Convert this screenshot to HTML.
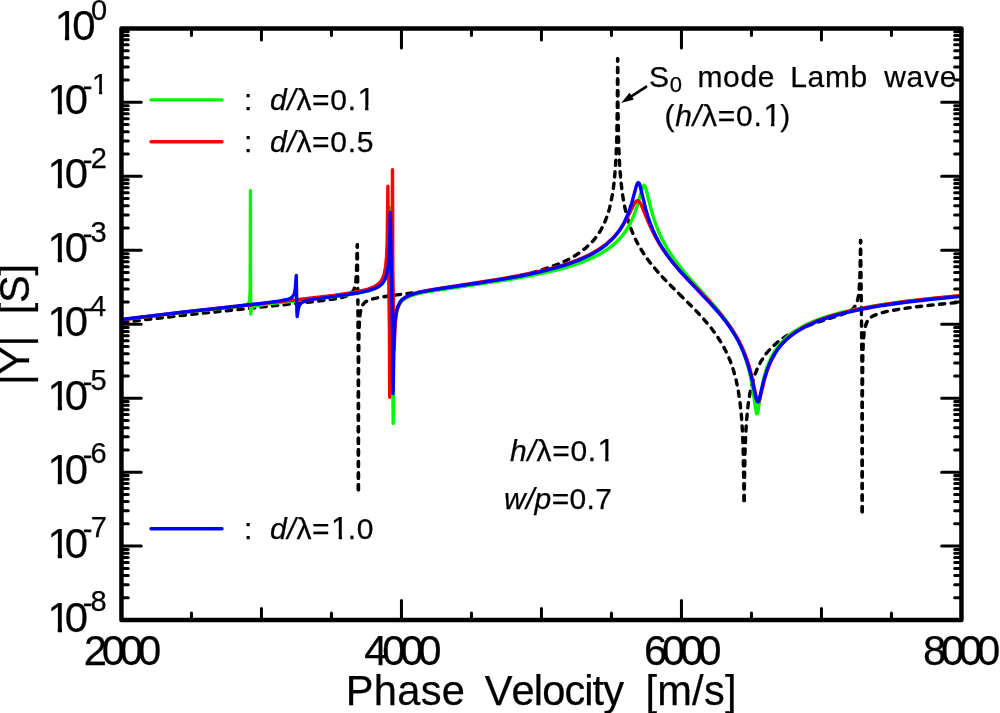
<!DOCTYPE html><html><head><meta charset="utf-8"><style>html,body{margin:0;padding:0;background:#fff;width:1000px;height:713px;overflow:hidden}svg{display:block;will-change:transform}text{font-family:"Liberation Sans",sans-serif;fill:#000;stroke:#000;stroke-width:0.25px}</style></head><body>
<svg width="1000" height="713" viewBox="0 0 1000 713">
<defs><clipPath id="pc"><rect x="121.45" y="28.4" width="840.0" height="591.68"/></clipPath></defs>
<g clip-path="url(#pc)" fill="none" stroke-linejoin="round" stroke-linecap="round">
<path d="M357.33,244.76 356.41,274.02 355.82,281.26 355.01,286.21 353.76,290.03 351.93,292.83 349.33,294.86 345.60,296.47 341.06,297.68 334.81,298.86 314.93,301.50 186.97,314.86 121.45,322.44" stroke="#000" stroke-width="3.4" stroke-dasharray="5.2 6.4" stroke-dashoffset="2.8"/>
<path d="M357.33,244.76 357.87,300.23" stroke="#000" stroke-width="3.4" stroke-dasharray="5.2 6.4" stroke-dashoffset="2.8"/>
<path d="M358.41,489.80 358.31,369.29 357.87,300.23" stroke="#000" stroke-width="3.4" stroke-dasharray="5.2 6.4" stroke-dashoffset="0.0"/>
<path d="M358.41,489.80 358.52,375.48 358.95,333.50 359.39,322.08 360.09,313.92 361.13,308.55 362.74,304.77 364.90,302.32 368.09,300.44 372.69,298.90 379.34,297.48 394.45,295.20 454.65,287.35 488.02,282.18" stroke="#000" stroke-width="3.4" stroke-dasharray="5.2 6.4" stroke-dashoffset="0.0"/>
<path d="M617.63,58.60 617.33,105.27 616.77,137.92 615.93,159.48 614.53,178.43 613.41,188.10 612.29,195.42 609.49,208.40 607.53,214.94 605.57,220.26 603.33,225.31 600.81,230.06 597.73,234.91 594.09,239.67 590.17,243.95 585.97,247.84 581.21,251.59 575.89,255.17 570.01,258.56 563.85,261.62 556.85,264.64 549.29,267.47 541.17,270.14 532.21,272.73 512.05,277.57 488.02,282.18" stroke="#000" stroke-width="3.4" stroke-dasharray="5.2 6.4" stroke-dashoffset="2.8"/>
<path d="M617.63,58.60 618.17,123.08 618.73,145.95 619.57,164.36 620.69,179.25 622.37,193.68 624.33,205.25 626.85,216.08 630.21,226.86 634.13,236.54 638.89,245.91 644.77,255.37 651.21,264.10 659.05,273.36 668.01,282.87 680.88,295.63" stroke="#000" stroke-width="3.4" stroke-dasharray="5.2 6.4" stroke-dashoffset="2.8"/>
<path d="M744.12,500.60 743.05,445.69 742.21,427.27 741.37,415.47 739.97,401.99 738.29,390.72 736.05,379.77 733.53,370.45 730.17,360.78 725.97,351.27 721.21,342.53 715.61,333.93 709.17,325.46 701.89,317.00 693.21,307.84 680.88,295.62" stroke="#000" stroke-width="3.4" stroke-dasharray="5.2 6.4" stroke-dashoffset="0.0"/>
<path d="M744.12,500.60 745.01,451.85 745.85,431.23 746.69,418.80 748.09,405.18 749.77,394.21 751.73,385.05 754.25,376.37 757.33,368.44 761.25,360.83 766.01,353.81 771.33,347.74 777.49,342.20 784.77,336.99 792.89,332.32 802.36,327.87" stroke="#000" stroke-width="3.4" stroke-dasharray="5.2 6.4" stroke-dashoffset="0.0"/>
<path d="M860.61,240.36 859.96,274.35 859.15,289.92 858.50,295.60 857.69,299.83 856.56,303.40 855.10,306.18 853.48,308.18 851.41,309.94 848.78,311.54 845.46,313.07 838.81,315.46 815.57,322.85 802.36,327.87" stroke="#000" stroke-width="3.4" stroke-dasharray="5.2 6.4" stroke-dashoffset="2.8"/>
<path d="M860.61,240.36 861.42,313.98" stroke="#000" stroke-width="3.4" stroke-dasharray="5.2 6.4" stroke-dashoffset="2.8"/>
<path d="M862.23,511.80 862.07,383.98 861.42,313.98" stroke="#000" stroke-width="3.4" stroke-dasharray="5.2 6.4" stroke-dashoffset="0.0"/>
<path d="M862.23,511.80 862.33,404.29 862.80,356.53 863.28,342.98 864.01,333.69 865.06,327.24 866.68,322.40 867.82,320.43 869.28,318.66 870.98,317.20 873.08,315.89 878.83,313.55 887.18,311.41 900.13,309.07 916.93,306.74 937.65,304.40 961.45,302.15" stroke="#000" stroke-width="3.4" stroke-dasharray="5.2 6.4" stroke-dashoffset="0.0"/>
<path d="M121.45,319.91 165.13,314.58 237.09,306.50 244.93,305.23 246.89,304.60 248.25,303.70 249.14,302.28 249.67,299.98 250.19,289.94 250.46,190.80 250.55,288.19 250.78,314.00 251.37,309.82 252.17,307.74 253.66,306.45 256.41,305.56 268.73,303.81 330.61,297.00 353.09,293.96 362.81,292.19 370.09,290.37 375.57,288.32 379.59,285.93 382.69,282.84 384.93,278.94 386.59,273.80 387.78,267.17 388.68,258.03 389.27,246.70 390.17,207.47 390.91,258.71 392.55,337.16 393.14,423.40 393.59,357.80 394.04,339.57 394.73,326.38 395.82,316.32 397.25,309.69 398.21,306.93 399.40,304.46 400.74,302.45 402.38,300.63 405.80,298.09 410.27,296.00 416.29,294.12 424.26,292.33 441.09,289.51 485.73,283.17 507.85,279.78 528.57,276.16 546.49,272.46 560.49,269.01 572.81,265.40 583.73,261.53 593.25,257.43 598.57,254.73 603.33,251.98 607.81,249.04 611.73,246.10 615.65,242.74 619.01,239.43 622.09,235.94 625.17,231.90 629.93,224.13 633.85,215.65 637.21,206.06 642.25,188.17 643.09,186.17 643.93,185.31 644.77,185.83 645.89,188.49 651.77,211.83 654.01,219.26 656.25,225.67 658.77,231.96 661.57,238.07 667.73,249.32 674.45,259.44 682.85,270.31 691.25,280.09 712.25,303.41 722.33,315.62 727.09,322.07 731.29,328.33 735.21,334.87 738.57,341.23 741.65,347.93 744.45,355.05 746.97,362.70 748.93,369.83 750.61,377.14 752.29,385.99 755.93,410.57 756.49,413.03 756.95,413.80 757.33,413.45 757.89,411.48 761.25,390.29 763.77,378.31 767.13,367.11 771.05,357.88 773.57,353.25 776.37,348.92 779.45,344.87 782.81,341.11 786.45,337.61 790.37,334.36 794.85,331.15 799.61,328.19 804.93,325.32 810.81,322.57 817.25,319.94 824.25,317.46 839.65,312.96 857.57,308.90 878.29,305.19 902.37,301.76 929.81,298.61 961.45,295.64" stroke="#00f800" stroke-width="3.4"/>
<path d="M121.45,319.76 186.13,311.80 300.93,299.26 333.41,295.41 348.81,293.21 359.89,291.19 368.06,289.10 374.03,286.76 376.57,285.29 378.71,283.63 380.45,281.77 381.92,279.61 383.13,277.12 384.12,274.22 385.63,266.66 386.61,256.16 387.24,240.83 387.89,186.22 388.29,242.25 389.39,327.12 389.72,397.20 390.20,326.09 391.74,276.63 392.11,257.48 392.48,169.80 392.84,268.64 394.03,350.00 395.20,324.13 395.94,316.61 396.90,311.00 398.26,306.35 400.09,302.64 402.49,299.69 405.74,297.20 409.42,295.33 414.06,293.65 419.95,292.07 427.49,290.47 442.89,287.83 500.29,278.97 518.49,275.73 534.45,272.47 547.68,269.36 559.71,266.07 570.57,262.58 580.09,258.95 589.89,254.43 598.57,249.48 606.13,244.08 612.85,238.03 617.61,232.71 622.09,226.59 626.85,218.54 634.13,204.01 635.81,201.64 636.65,200.96 637.49,200.70 638.33,200.90 639.17,201.56 641.13,204.61 649.81,225.51 655.41,236.97 660.45,245.59 666.33,254.25 673.05,262.90 680.89,271.93 708.89,301.05 718.69,311.86 727.93,323.44 731.85,329.05 735.49,334.81 738.85,340.79 741.93,347.01 744.73,353.53 747.25,360.36 749.49,367.50 751.45,374.85 756.49,398.12 757.33,400.87 758.16,402.00 758.45,401.95 759.01,401.22 759.85,398.83 764.17,380.51 767.41,369.79 771.05,360.83 775.25,353.07 778.05,348.90 781.13,344.97 784.49,341.29 787.85,338.09 791.77,334.84 795.97,331.81 800.45,328.97 805.21,326.32 810.81,323.58 816.69,321.06 829.85,316.38 844.97,312.16 862.61,308.26 882.77,304.69 905.73,301.39 931.77,298.33 961.45,295.44" stroke="#ff0000" stroke-width="3.4"/>
<path d="M121.45,319.48 174.09,313.07 265.37,302.91 278.53,301.17 286.09,299.75 289.17,298.79 291.35,297.67 292.90,296.23 294.00,294.32 294.75,291.87 295.30,288.54 296.27,275.41 296.90,311.31 297.18,316.60 298.23,309.24 299.35,305.57 300.20,304.18 301.28,303.07 302.68,302.15 304.50,301.35 308.49,300.25 314.65,299.11 345.56,294.81 358.21,292.79 367.57,290.80 374.29,288.69 376.97,287.47 379.33,286.07 381.28,284.50 382.81,282.84 384.20,280.79 385.31,278.53 387.12,272.49 388.29,264.87 389.13,254.17 389.69,239.99 390.32,212.62 392.49,332.41 393.10,393.60 393.79,343.13 394.35,329.26 395.04,320.17 396.16,312.35 397.69,306.64 399.77,302.39 401.16,300.57 402.69,299.07 406.03,296.80 410.41,294.86 416.17,293.10 423.68,291.42 439.39,288.73 481.81,282.48 503.09,279.10 523.25,275.46 540.89,271.72 554.89,268.19 567.49,264.39 578.41,260.42 588.21,256.06 593.53,253.26 598.29,250.41 602.55,247.51 606.69,244.30 610.33,241.06 613.69,237.64 616.77,234.02 619.85,229.83 624.33,222.27 628.25,213.53 631.61,203.59 636.37,185.86 637.49,183.13 638.33,182.54 639.17,183.45 640.01,185.67 645.61,208.63 647.85,216.28 650.28,223.36 652.89,229.89 655.97,236.56 659.05,242.39 662.69,248.50 669.97,259.00 678.93,270.01 688.17,280.19 710.29,303.33 720.93,315.46 725.69,321.48 730.17,327.70 734.09,333.74 737.45,339.53 740.25,344.95 743.05,351.09 747.53,363.12 751.17,376.06 755.93,397.79 756.77,400.55 757.61,401.80 757.89,401.81 758.45,401.23 759.29,399.06 763.77,380.62 767.13,369.72 770.77,360.96 774.97,353.34 777.77,349.23 780.57,345.68 783.93,342.00 787.51,338.61 791.21,335.56 795.41,332.53 799.89,329.70 804.93,326.91 810.53,324.20 816.41,321.70 829.57,317.07 844.97,312.82 862.61,308.97 882.77,305.45 905.73,302.21 931.77,299.19 961.45,296.35" stroke="#0000ff" stroke-width="3.4"/>
</g>
<g stroke="#000" stroke-linecap="round" fill="none">
<path d="M121.45,80.10L128.25,80.10 M961.45,80.10L954.65,80.10 M121.45,67.07L128.25,67.07 M961.45,67.07L954.65,67.07 M121.45,57.83L128.25,57.83 M961.45,57.83L954.65,57.83 M121.45,50.66L128.25,50.66 M961.45,50.66L954.65,50.66 M121.45,44.81L128.25,44.81 M961.45,44.81L954.65,44.81 M121.45,39.86L128.25,39.86 M961.45,39.86L954.65,39.86 M121.45,35.57L128.25,35.57 M961.45,35.57L954.65,35.57 M121.45,31.78L128.25,31.78 M961.45,31.78L954.65,31.78 M121.45,102.36L141.25,102.36 M961.45,102.36L941.65,102.36 M121.45,154.06L128.25,154.06 M961.45,154.06L954.65,154.06 M121.45,141.03L128.25,141.03 M961.45,141.03L954.65,141.03 M121.45,131.79L128.25,131.79 M961.45,131.79L954.65,131.79 M121.45,124.62L128.25,124.62 M961.45,124.62L954.65,124.62 M121.45,118.77L128.25,118.77 M961.45,118.77L954.65,118.77 M121.45,113.82L128.25,113.82 M961.45,113.82L954.65,113.82 M121.45,109.53L128.25,109.53 M961.45,109.53L954.65,109.53 M121.45,105.74L128.25,105.74 M961.45,105.74L954.65,105.74 M121.45,176.32L141.25,176.32 M961.45,176.32L941.65,176.32 M121.45,228.02L128.25,228.02 M961.45,228.02L954.65,228.02 M121.45,214.99L128.25,214.99 M961.45,214.99L954.65,214.99 M121.45,205.75L128.25,205.75 M961.45,205.75L954.65,205.75 M121.45,198.58L128.25,198.58 M961.45,198.58L954.65,198.58 M121.45,192.73L128.25,192.73 M961.45,192.73L954.65,192.73 M121.45,187.78L128.25,187.78 M961.45,187.78L954.65,187.78 M121.45,183.49L128.25,183.49 M961.45,183.49L954.65,183.49 M121.45,179.70L128.25,179.70 M961.45,179.70L954.65,179.70 M121.45,250.28L141.25,250.28 M961.45,250.28L941.65,250.28 M121.45,301.98L128.25,301.98 M961.45,301.98L954.65,301.98 M121.45,288.95L128.25,288.95 M961.45,288.95L954.65,288.95 M121.45,279.71L128.25,279.71 M961.45,279.71L954.65,279.71 M121.45,272.54L128.25,272.54 M961.45,272.54L954.65,272.54 M121.45,266.69L128.25,266.69 M961.45,266.69L954.65,266.69 M121.45,261.74L128.25,261.74 M961.45,261.74L954.65,261.74 M121.45,257.45L128.25,257.45 M961.45,257.45L954.65,257.45 M121.45,253.66L128.25,253.66 M961.45,253.66L954.65,253.66 M121.45,324.24L141.25,324.24 M961.45,324.24L941.65,324.24 M121.45,375.94L128.25,375.94 M961.45,375.94L954.65,375.94 M121.45,362.91L128.25,362.91 M961.45,362.91L954.65,362.91 M121.45,353.67L128.25,353.67 M961.45,353.67L954.65,353.67 M121.45,346.50L128.25,346.50 M961.45,346.50L954.65,346.50 M121.45,340.65L128.25,340.65 M961.45,340.65L954.65,340.65 M121.45,335.70L128.25,335.70 M961.45,335.70L954.65,335.70 M121.45,331.41L128.25,331.41 M961.45,331.41L954.65,331.41 M121.45,327.62L128.25,327.62 M961.45,327.62L954.65,327.62 M121.45,398.20L141.25,398.20 M961.45,398.20L941.65,398.20 M121.45,449.90L128.25,449.90 M961.45,449.90L954.65,449.90 M121.45,436.87L128.25,436.87 M961.45,436.87L954.65,436.87 M121.45,427.63L128.25,427.63 M961.45,427.63L954.65,427.63 M121.45,420.46L128.25,420.46 M961.45,420.46L954.65,420.46 M121.45,414.61L128.25,414.61 M961.45,414.61L954.65,414.61 M121.45,409.66L128.25,409.66 M961.45,409.66L954.65,409.66 M121.45,405.37L128.25,405.37 M961.45,405.37L954.65,405.37 M121.45,401.58L128.25,401.58 M961.45,401.58L954.65,401.58 M121.45,472.16L141.25,472.16 M961.45,472.16L941.65,472.16 M121.45,523.86L128.25,523.86 M961.45,523.86L954.65,523.86 M121.45,510.83L128.25,510.83 M961.45,510.83L954.65,510.83 M121.45,501.59L128.25,501.59 M961.45,501.59L954.65,501.59 M121.45,494.42L128.25,494.42 M961.45,494.42L954.65,494.42 M121.45,488.57L128.25,488.57 M961.45,488.57L954.65,488.57 M121.45,483.62L128.25,483.62 M961.45,483.62L954.65,483.62 M121.45,479.33L128.25,479.33 M961.45,479.33L954.65,479.33 M121.45,475.54L128.25,475.54 M961.45,475.54L954.65,475.54 M121.45,546.12L141.25,546.12 M961.45,546.12L941.65,546.12 M121.45,597.82L128.25,597.82 M961.45,597.82L954.65,597.82 M121.45,584.79L128.25,584.79 M961.45,584.79L954.65,584.79 M121.45,575.55L128.25,575.55 M961.45,575.55L954.65,575.55 M121.45,568.38L128.25,568.38 M961.45,568.38L954.65,568.38 M121.45,562.53L128.25,562.53 M961.45,562.53L954.65,562.53 M121.45,557.58L128.25,557.58 M961.45,557.58L954.65,557.58 M121.45,553.29L128.25,553.29 M961.45,553.29L954.65,553.29 M121.45,549.50L128.25,549.50 M961.45,549.50L954.65,549.50 M191.45,620.08L191.45,612.98 M191.45,28.40L191.45,35.50 M261.45,620.08L261.45,608.48 M261.45,28.40L261.45,40.00 M331.45,620.08L331.45,612.98 M331.45,28.40L331.45,35.50 M401.45,620.08L401.45,600.58 M401.45,28.40L401.45,47.90 M471.45,620.08L471.45,612.98 M471.45,28.40L471.45,35.50 M541.45,620.08L541.45,608.48 M541.45,28.40L541.45,40.00 M611.45,620.08L611.45,612.98 M611.45,28.40L611.45,35.50 M681.45,620.08L681.45,600.58 M681.45,28.40L681.45,47.90 M751.45,620.08L751.45,612.98 M751.45,28.40L751.45,35.50 M821.45,620.08L821.45,608.48 M821.45,28.40L821.45,40.00 M891.45,620.08L891.45,612.98 M891.45,28.40L891.45,35.50" stroke-width="3.0"/>
<rect x="121.45" y="28.4" width="840.0" height="591.68" stroke-width="4.5" stroke-linejoin="round"/>
</g>
<g stroke-linecap="round" stroke-width="3.4">
<path d="M151,99.9H222" stroke="#00f800"/>
<path d="M151,141.8H222" stroke="#ff0000"/>
<path d="M151,528.8H222" stroke="#0000ff"/>
</g>
<path d="M646.0,86.8L631.67,96.16" stroke="#000" stroke-width="2.8" stroke-linecap="round"/>
<path d="M621.2,103.0L629.48,92.82L633.85,99.51Z" fill="#000"/>
<clipPath id="c1_31"><path d="M48.69,-1.40H96.49V35.48H69.20V43.40H64.91V35.48H48.69Z"/></clipPath>
<text x="54.69" y="40.40" font-size="41.8" clip-path="url(#c1_31)">1</text>
<text x="72.37" y="40.40" font-size="41.8"  >0</text>
<text x="91.07" y="19.70" font-size="29"  >0</text>
<clipPath id="c1_35"><path d="M41.49,72.56H89.29V109.44H62.00V117.36H57.71V109.44H41.49Z"/></clipPath>
<text x="47.49" y="114.36" font-size="41.8" clip-path="url(#c1_35)">1</text>
<text x="64.77" y="114.36" font-size="41.8"  >0</text>
<text x="82.71" y="95.66" font-size="29"  >-</text>
<clipPath id="c1_39"><path d="M86.04,64.66H121.04V89.69H102.20V96.66H99.04V89.69H86.04Z"/></clipPath>
<text x="92.04" y="93.66" font-size="29" clip-path="url(#c1_39)">1</text>
<clipPath id="c1_41"><path d="M41.49,146.52H89.29V183.40H62.00V191.32H57.71V183.40H41.49Z"/></clipPath>
<text x="47.49" y="188.32" font-size="41.8" clip-path="url(#c1_41)">1</text>
<text x="64.77" y="188.32" font-size="41.8"  >0</text>
<text x="82.71" y="169.62" font-size="29"  >-</text>
<text x="90.73" y="167.62" font-size="29"  >2</text>
<clipPath id="c1_46"><path d="M41.49,220.48H89.29V257.36H62.00V265.28H57.71V257.36H41.49Z"/></clipPath>
<text x="47.49" y="262.28" font-size="41.8" clip-path="url(#c1_46)">1</text>
<text x="64.77" y="262.28" font-size="41.8"  >0</text>
<text x="82.71" y="243.58" font-size="29"  >-</text>
<text x="90.55" y="241.58" font-size="29"  >3</text>
<clipPath id="c1_51"><path d="M41.49,294.44H89.29V331.32H62.00V339.24H57.71V331.32H41.49Z"/></clipPath>
<text x="47.49" y="336.24" font-size="41.8" clip-path="url(#c1_51)">1</text>
<text x="64.77" y="336.24" font-size="41.8"  >0</text>
<text x="82.71" y="317.54" font-size="29"  >-</text>
<text x="90.12" y="315.54" font-size="29"  >4</text>
<clipPath id="c1_56"><path d="M41.49,368.40H89.29V405.28H62.00V413.20H57.71V405.28H41.49Z"/></clipPath>
<text x="47.49" y="410.20" font-size="41.8" clip-path="url(#c1_56)">1</text>
<text x="64.77" y="410.20" font-size="41.8"  >0</text>
<text x="82.71" y="391.50" font-size="29"  >-</text>
<text x="90.49" y="389.50" font-size="29"  >5</text>
<clipPath id="c1_61"><path d="M41.49,442.36H89.29V479.24H62.00V487.16H57.71V479.24H41.49Z"/></clipPath>
<text x="47.49" y="484.16" font-size="41.8" clip-path="url(#c1_61)">1</text>
<text x="64.77" y="484.16" font-size="41.8"  >0</text>
<text x="82.71" y="465.46" font-size="29"  >-</text>
<text x="90.55" y="463.46" font-size="29"  >6</text>
<clipPath id="c1_66"><path d="M41.49,516.32H89.29V553.20H62.00V561.12H57.71V553.20H41.49Z"/></clipPath>
<text x="47.49" y="558.12" font-size="41.8" clip-path="url(#c1_66)">1</text>
<text x="64.77" y="558.12" font-size="41.8"  >0</text>
<text x="82.71" y="539.42" font-size="29"  >-</text>
<text x="90.73" y="537.42" font-size="29"  >7</text>
<clipPath id="c1_71"><path d="M41.49,590.28H89.29V627.16H62.00V635.08H57.71V627.16H41.49Z"/></clipPath>
<text x="47.49" y="632.08" font-size="41.8" clip-path="url(#c1_71)">1</text>
<text x="64.77" y="632.08" font-size="41.8"  >0</text>
<text x="82.71" y="613.38" font-size="29"  >-</text>
<text x="90.53" y="611.38" font-size="29"  >8</text>
<text x="83.75" y="665.20" font-size="41.8" letter-spacing="-5.2"  >2000</text>
<text x="364.24" y="665.20" font-size="41.8" letter-spacing="-5.2"  >4000</text>
<text x="644.08" y="665.20" font-size="41.8" letter-spacing="-5.2"  >6000</text>
<text x="922.98" y="665.20" font-size="41.8" letter-spacing="-5.2"  >8000</text>
<text y="109.90" font-size="30"><tspan x="244.01">:</tspan></text>
<text y="109.90" font-size="30"><tspan x="269.99 287.37" font-style="italic">d/</tspan><tspan x="296.41 312.11 330.33 347.71">λ=0.</tspan></text>
<clipPath id="c1_82"><path d="M351.44,78.40H388.94V105.75H368.44V112.90H365.06V105.75H351.44Z"/></clipPath>
<text x="357.44" y="109.90" font-size="31.5" clip-path="url(#c1_82)">1</text>
<text y="151.60" font-size="30"><tspan x="244.01">:</tspan></text>
<text y="151.60" font-size="30"><tspan x="269.99 287.37" font-style="italic">d/</tspan><tspan x="296.41 312.11 330.33 347.71 356.75">λ=0.5</tspan></text>
<text y="539.00" font-size="30"><tspan x="244.01">:</tspan></text>
<text y="539.00" font-size="30"><tspan x="269.99 287.37" font-style="italic">d/</tspan><tspan x="296.41 312.11 347.71 356.75">λ=.0</tspan></text>
<clipPath id="c1_88"><path d="M325.02,507.50H362.52V534.85H342.02V542.00H338.64V534.85H325.02Z"/></clipPath>
<text x="331.02" y="539.00" font-size="31.5" clip-path="url(#c1_88)">1</text>
<text y="86.60" font-size="30"><tspan x="649.04">S</tspan></text>
<text y="91.50" font-size="22"><tspan x="669.74">0</tspan></text>
<text y="86.60" font-size="30"><tspan x="697.41 723.10 740.48 757.87">mode</tspan></text>
<text y="86.60" font-size="30"><tspan x="790.14 807.52 824.91 850.60">Lamb</tspan></text>
<text y="86.60" font-size="30"><tspan x="884.24 906.61 923.99 939.69">wave</tspan></text>
<text y="125.90" font-size="30"><tspan x="664.44">(</tspan><tspan x="675.25 692.75" font-style="italic">h/</tspan><tspan x="701.91 717.73 736.07 753.57 780.23">λ=0.)</tspan></text>
<clipPath id="c1_96"><path d="M757.42,94.40H794.92V121.75H774.42V128.90H771.04V121.75H757.42Z"/></clipPath>
<text x="763.42" y="125.90" font-size="31.5" clip-path="url(#c1_96)">1</text>
<text y="460.80" font-size="30"><tspan x="510.10 527.49" font-style="italic">h/</tspan><tspan x="536.52 552.22 570.44 587.83">λ=0.</tspan></text>
<clipPath id="c1_99"><path d="M591.55,429.30H629.05V456.65H608.56V463.80H605.17V456.65H591.55Z"/></clipPath>
<text x="597.55" y="460.80" font-size="31.5" clip-path="url(#c1_99)">1</text>
<text y="509.00" font-size="30"><tspan x="503.91 525.92 534.61" font-style="italic">w/p</tspan><tspan x="551.64 569.51 586.54 595.23">=0.7</tspan></text>
<text y="704.65" font-size="41.6"><tspan x="345.79 373.83 397.27 420.71 441.81">Phase</tspan></text>
<text y="704.65" font-size="41.6"><tspan x="484.72 511.56 533.80 542.14 564.38 584.28 592.62 603.28">Velocity</tspan></text>
<text y="704.65" font-size="41.6"><tspan x="645.43 657.22 692.11 703.89 724.92">[m/s]</tspan></text>
<text transform="translate(29.0,385.12) rotate(-90)" y="0.00" font-size="41.6"><tspan x="0.00 10.81 38.55">|Y|</tspan></text>
<text transform="translate(29.0,314.27) rotate(-90)" y="0.00" font-size="41.6"><tspan x="0.00 11.26 38.70">[S]</tspan></text>
</svg></body></html>
